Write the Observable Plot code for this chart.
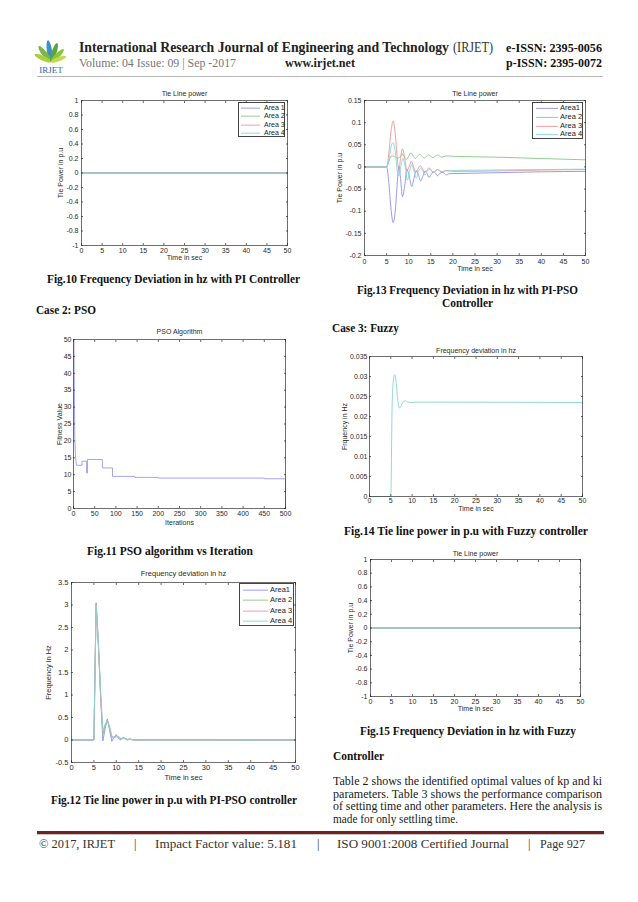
<!DOCTYPE html>
<html><head><meta charset="utf-8">
<script src="https://cdn.jsdelivr.net/npm/d3@7"></script>
<script src="https://cdn.jsdelivr.net/npm/@observablehq/plot@0.6"></script>
<style>
body{margin:0;background:#fff;}
#page{position:relative;width:638px;height:902px;overflow:hidden;background:#fff;color:#1a1a1a;}
.t{position:absolute;white-space:nowrap;line-height:1;}
.fit{display:inline-block;transform-origin:0 50%;}
.chart{position:absolute;}
.legend{position:absolute;border:0.7px solid #444;background:#fff;font-family:"Liberation Sans",Arial,sans-serif;color:#222;box-sizing:border-box;}
.legend .row{position:absolute;left:0;right:0;height:8px;}
.legend .lab{position:absolute;line-height:8px;white-space:nowrap;}
.legend svg{position:absolute;top:0;}
</style></head><body><div id="page"></div>
<script>
// ---------------- DATA ----------------
const areaNames = ["Area 1", "Area 2", "Area 3", "Area 4"];
const areaNamesB = ["Area1", "Area 2", "Area 3", "Area 4"];
const areaColors = ["#8f8ff2", "#86c886", "#f29494", "#84d6d6"];

const timeTicks = [0, 5, 10, 15, 20, 25, 30, 35, 40, 45, 50];
const unitTicks = [-1, -0.8, -0.6, -0.4, -0.2, 0, 0.2, 0.4, 0.6, 0.8, 1];

// Fig.10 - tie line power, PI (all areas flat at zero)
const piTieArea1 = [[0, 0], [50, 0]];
const piTieArea2 = [[0, 0], [50, 0]];
const piTieArea3 = [[0, 0], [50, 0]];
const piTieArea4 = [[0, 0], [50, 0]];

// Fig.13 - tie line power, PI-PSO
const psoTieTicks = [-0.2, -0.15, -0.1, -0.05, 0, 0.05, 0.1, 0.15];
const psoTieArea1 = [[0,0],[5,0],[5.5,-0.035],[6,-0.095],[6.5,-0.126],[7,-0.095],[7.5,-0.025],[7.8,0.002],[8.1,-0.02],[8.6,-0.067],[9.1,-0.042],[9.6,-0.006],[10.1,-0.02],[10.7,-0.044],[11.2,-0.026],[11.7,-0.008],[12.2,-0.018],[12.7,-0.032],[13.2,-0.021],[13.7,-0.009],[14.1,-0.014],[14.6,-0.024],[15.1,-0.017],[15.6,-0.011],[16.0,-0.013],[16.5,-0.02],[17.0,-0.015],[17.5,-0.012],[18.0,-0.014],[18.5,-0.018],[19.2,-0.015],[20,-0.015],[25,-0.014],[30,-0.013],[40,-0.011],[50,-0.01]];
const psoTieArea2 = [[0,0],[5,0],[5.5,0.012],[6,0.024],[6.5,0.025],[7,0.022],[7.5,0.02],[8,0.022],[8.5,0.03],[9,0.022],[9.5,0.017],[10,0.024],[10.5,0.032],[11,0.025],[11.5,0.019],[12,0.024],[12.5,0.029],[13,0.024],[13.5,0.02],[14,0.024],[14.5,0.027],[15,0.024],[15.5,0.021],[16,0.024],[16.5,0.027],[17.5,0.022],[18.5,0.025],[20,0.024],[30,0.022],[40,0.019],[50,0.016]];
const psoTieArea3 = [[0,0],[5,0],[5.5,0.03],[6,0.08],[6.5,0.104],[7,0.07],[7.5,0.01],[7.8,-0.005],[8.1,0.015],[8.6,0.041],[9.1,0.02],[9.6,-0.008],[10.1,0.0],[10.6,0.013],[11.1,0.0],[11.6,-0.012],[12.1,-0.005],[12.6,0.003],[13.1,-0.004],[13.6,-0.013],[14.1,-0.008],[14.6,-0.002],[15.1,-0.007],[15.6,-0.013],[16.5,-0.006],[17.5,-0.012],[18.5,-0.008],[20,-0.01],[30,-0.009],[40,-0.007],[50,-0.006]];
const psoTieArea4 = [[0,0],[5,0],[5.5,0.015],[6,0.045],[6.5,0.055],[7,0.03],[7.5,-0.015],[7.8,-0.02],[8.2,0.0],[8.7,0.02],[9.2,0.0],[9.7,-0.03],[10.2,-0.01],[10.7,0.005],[11.2,-0.01],[11.7,-0.025],[12.2,-0.01],[12.7,-0.003],[13.2,-0.01],[13.7,-0.018],[14.2,-0.01],[14.7,-0.005],[15.5,-0.012],[16.5,-0.006],[17.5,-0.01],[20,-0.008],[30,-0.007],[50,-0.005]];

// Fig.11 - PSO algorithm fitness vs iteration
const iterTicks = [0, 50, 100, 150, 200, 250, 300, 350, 400, 450, 500];
const fitnessTicks = [0, 5, 10, 15, 20, 25, 30, 35, 40, 45, 50];
const psoIteration = [1, 3, 5, 7, 20, 20, 31, 31, 33, 33, 68, 68, 92, 92, 145, 145, 200, 200, 450, 450, 500, 500];
const psoFitness   = [50, 21, 15, 12.8, 12.8, 14, 14, 10.5, 10.5, 14.5, 14.5, 12, 12, 9.5, 9.5, 9.2, 9.2, 9.0, 9.0, 8.8, 8.8, 0];

// Fig.14 - frequency deviation, fuzzy
const fuzzyFreqTicks = [0, 0.005, 0.01, 0.015, 0.02, 0.025, 0.03, 0.035];
const fuzzyFreq = [[0,0],[5,0],[5.3,0.022],[5.6,0.029],[5.9,0.0305],[6.2,0.0292],[6.6,0.0245],[7.0,0.0221],[7.4,0.0226],[7.9,0.0237],[8.4,0.0239],[9,0.0236],[10,0.0235],[11,0.0236],[50,0.0235]];

// Fig.12 - frequency deviation, PI-PSO
const psoFreqTicks = [-0.5, 0, 0.5, 1, 1.5, 2, 2.5, 3, 3.5];
const psoFreqArea1 = [[0,0],[5,0],[5.5,3.05],[6,2.1],[6.5,0.95],[7,-0.02],[7.5,0.25],[8,0.47],[8.5,0.22],[9,-0.03],[9.5,0.06],[10,0.12],[10.5,0.03],[11,0.0],[11.5,0.06],[12,0.03],[12.5,0.0],[13,0.02],[14,0.0],[15,0.005],[50,0]];
const psoFreqArea2 = [[0,0],[5,0],[5.5,3.0],[6,2.1],[6.5,1.0],[7,0.12],[7.5,0.3],[8,0.45],[8.5,0.25],[9,0.05],[9.5,0.04],[10,0.1],[10.5,0.06],[11,0.02],[11.5,0.04],[12,0.04],[12.5,0.01],[13,0.02],[14,0.0],[50,0]];
const psoFreqArea3 = [[0,0],[5,0],[5.5,3.02],[6,2.15],[6.5,1.0],[7,0.16],[7.5,0.32],[8,0.44],[8.5,0.28],[9,0.08],[9.5,0.06],[10,0.09],[10.5,0.07],[11,0.03],[11.5,0.04],[12,0.03],[12.5,0.01],[13,0.02],[14,0.0],[50,0]];
const psoFreqArea4 = [[0,0],[5,0],[5.5,3.0],[6,2.2],[6.5,1.1],[7,0.2],[7.5,0.35],[8,0.42],[8.5,0.3],[9,0.1],[9.5,0.05],[10,0.07],[10.5,0.08],[11,0.04],[11.5,0.03],[12,0.03],[12.5,0.02],[13,0.01],[14,0.0],[50,0]];

// Fig.15 - tie line power, fuzzy (flat at zero)
const fuzzyTieArea1 = [[0, 0], [50, 0]];
const fuzzyTieArea2 = [[0, 0], [50, 0]];
const fuzzyTieArea3 = [[0, 0], [50, 0]];
const fuzzyTieArea4 = [[0, 0], [50, 0]];

// ---------------- PAGE HELPERS ----------------
const page = document.getElementById("page");
const SERIF = '"Liberation Serif", "DejaVu Serif", serif';
function txt(s, o) {
  const d = document.createElement("div");
  d.className = "t";
  d.style.left = o.x + "px";
  d.style.top = (o.y - o.size / 2) + "px";
  d.style.fontSize = o.size + "px";
  d.style.fontWeight = o.bold ? "700" : "400";
  d.style.color = o.color || "#1a1a1a";
  d.style.fontFamily = o.font || SERIF;
  const sp = document.createElement("span");
  sp.className = "fit";
  sp.textContent = s;
  d.appendChild(sp);
  page.appendChild(d);
  if (o.w) {
    const w = sp.getBoundingClientRect().width;
    sp.style.transform = `scaleX(${o.w / w})`;
  }
  return d;
}
function rect(x, y, w, h, color) {
  const d = document.createElement("div");
  d.style.cssText = `position:absolute;left:${x}px;top:${y}px;width:${w}px;height:${h}px;background:${color};`;
  page.appendChild(d);
}

// ---------------- HEADER ----------------
const logo = document.createElementNS("http://www.w3.org/2000/svg", "svg");
logo.setAttribute("width", "34"); logo.setAttribute("height", "42");
logo.style.cssText = "position:absolute;left:34px;top:33px;";
logo.innerHTML = `
<g transform="translate(17,29)">
<ellipse cx="0" cy="-11" rx="2.6" ry="11" fill="#3d8fc4" transform="rotate(-8)"/>
<ellipse cx="0" cy="-10" rx="2.6" ry="10" fill="#7ab648" transform="rotate(-38)"/>
<ellipse cx="0" cy="-9" rx="2.4" ry="9" fill="#a9cf3a" transform="rotate(-65)"/>
<ellipse cx="0" cy="-10" rx="2.5" ry="10" fill="#5aa63c" transform="rotate(18)"/>
<ellipse cx="0" cy="-9" rx="2.4" ry="9" fill="#8cc43f" transform="rotate(45)"/>
<ellipse cx="0" cy="-8" rx="2.2" ry="8" fill="#c4d84a" transform="rotate(70)"/>
</g>
<text x="17" y="40" text-anchor="middle" font-family="Liberation Serif, serif" font-size="9" fill="#2f62ad">IRJET</text>`;
page.appendChild(logo);

txt("International Research Journal of Engineering and Technology", {x: 79, y: 48, size: 14, bold: true, w: 370, color: "#222"});
txt("(IRJET)", {x: 453, y: 48, size: 14, w: 40, color: "#333"});
txt("e-ISSN: 2395-0056", {x: 506, y: 48, size: 12, bold: true, w: 96, color: "#111"});
txt("Volume: 04 Issue: 09 | Sep -2017", {x: 79, y: 63, size: 12, w: 157, color: "#777"});
txt("www.irjet.net", {x: 285, y: 63, size: 12, bold: true, w: 70, color: "#222"});
txt("p-ISSN: 2395-0072", {x: 506, y: 63, size: 12, bold: true, w: 96, color: "#111"});
rect(37, 76, 566, 1.2, "#b8b8b8");

// ---------------- CHARTS ----------------
function makeChart(c) {
  const mL = 40, mR = 12, mT = 16, mB = 24;
  const W = c.fx1 - c.fx0, H = c.fy1 - c.fy0;
  const fmt = d => String(d);
  const sw = 0.7;
  const lines = c.series.map((s, i) => Plot.line(s, {
    x: d => d[0], y: d => d[1], stroke: c.colors[i], strokeWidth: 0.9,
    curve: c.curve || "linear"
  }));
  const svg = Plot.plot({
    width: W + mL + mR, height: H + mT + mB,
    marginLeft: mL, marginRight: mR, marginTop: mT, marginBottom: mB,
    x: {domain: c.xDomain}, y: {domain: c.yDomain},
    style: {fontSize: (c.fs || 7) + "px", fontFamily: '"Liberation Sans", Arial, sans-serif', color: "#2a2a2a", background: "transparent", overflow: "visible"},
    marks: [
      ...lines,
      Plot.frame({stroke: "#333", strokeWidth: sw}),
      Plot.axisX({anchor: "bottom", ticks: c.xTicks, tickSize: -2, tickPadding: c.xPad, tickFormat: fmt, label: null, strokeWidth: sw}),
      Plot.axisX({anchor: "top", ticks: c.xTicks, tickSize: -2, tickFormat: () => "", label: null, strokeWidth: sw}),
      Plot.axisY({anchor: "left", ticks: c.yTicks, tickSize: -2, tickPadding: c.yPad, tickFormat: fmt, label: null, strokeWidth: sw}),
      Plot.axisY({anchor: "right", ticks: c.yTicks, tickSize: -2, tickFormat: () => "", label: null, strokeWidth: sw}),
      Plot.text([c.title], {frameAnchor: "top", dy: -c.titleDy, lineAnchor: "middle"}),
      Plot.text([c.xLabel], {frameAnchor: "bottom", dy: c.xLabelDy, lineAnchor: "middle"}),
      Plot.text([c.yLabel], {frameAnchor: "left", dx: -c.yLabelDx, rotate: -90, lineAnchor: "middle", textAnchor: "middle"})
    ]
  });
  svg.classList.add("chart");
  svg.style.left = (c.fx0 - mL) + "px";
  svg.style.top = (c.fy0 - mT) + "px";
  page.appendChild(svg);
  if (c.legend) {
    const L = c.legend;
    const box = document.createElement("div");
    box.className = "legend";
    box.style.cssText += `left:${L.x0}px;top:${L.y0}px;width:${L.x1 - L.x0}px;height:${L.y1 - L.y0}px;font-size:${L.fs}px;`;
    const rowH = (L.y1 - L.y0 - 2) / L.names.length;
    L.names.forEach((n, i) => {
      const row = document.createElement("div");
      row.className = "row";
      row.style.top = (1 + i * rowH) + "px";
      row.style.height = rowH + "px";
      const s = document.createElementNS("http://www.w3.org/2000/svg", "svg");
      s.setAttribute("width", L.s1 - L.s0); s.setAttribute("height", rowH);
      s.style.left = (L.s0 - L.x0) + "px";
      s.innerHTML = `<line x1="0" x2="${L.s1 - L.s0}" y1="${rowH / 2}" y2="${rowH / 2}" stroke="${c.colors[i]}" stroke-width="0.9"/>`;
      row.appendChild(s);
      const lab = document.createElement("div");
      lab.className = "lab";
      lab.style.left = (L.tx - L.x0) + "px";
      lab.style.lineHeight = rowH + "px";
      lab.textContent = n;
      row.appendChild(lab);
      box.appendChild(row);
    });
    page.appendChild(box);
  }
}

// Fig.10
makeChart({fx0: 81, fx1: 287, fy0: 100, fy1: 245, xDomain: [0, 50], yDomain: [-1, 1],
  xTicks: timeTicks, yTicks: unitTicks, xPad: 4.5, yPad: 5,
  series: [piTieArea1, piTieArea2, piTieArea3, piTieArea4], colors: areaColors,
  title: "Tie Line power", titleDy: 7, xLabel: "Time in sec", xLabelDy: 12, yLabel: "Tie Power in p.u", yLabelDx: 21,
  legend: {x0: 238, x1: 285, y0: 102, y1: 137, s0: 240, s1: 259, tx: 263, fs: 7, names: areaNames}});

// Fig.13
makeChart({fx0: 364, fx1: 585, fy0: 100, fy1: 255, xDomain: [0, 50], yDomain: [-0.2, 0.15],
  xTicks: timeTicks, yTicks: psoTieTicks, xPad: 5.5, yPad: 5,
  series: [psoTieArea1, psoTieArea2, psoTieArea3, psoTieArea4], colors: areaColors, curve: "monotone-x",
  title: "Tie Line power", titleDy: 7, xLabel: "Time in sec", xLabelDy: 13, yLabel: "Tie Power in p.u", yLabelDx: 25,
  legend: {x0: 532, x1: 583, y0: 102, y1: 139, s0: 535, s1: 557, tx: 559, fs: 7.5, names: areaNamesB}});

// Fig.11
makeChart({fx0: 73, fx1: 285, fy0: 339, fy1: 508, xDomain: [0, 500], yDomain: [0, 50],
  xTicks: iterTicks, yTicks: fitnessTicks, xPad: 4.5, yPad: 4,
  series: [d3.zip(psoIteration, psoFitness)], colors: ["#979bf0"],
  title: "PSO Algorithm", titleDy: 8, xLabel: "Iterations", xLabelDy: 14, yLabel: "Fitness Value", yLabelDx: 14});

// Fig.14
makeChart({fx0: 369, fx1: 582, fy0: 356, fy1: 496, xDomain: [0, 50], yDomain: [0, 0.035],
  xTicks: timeTicks, yTicks: fuzzyFreqTicks, xPad: 3.5, yPad: 4,
  series: [fuzzyFreq], colors: ["#86d4d4"], curve: "monotone-x",
  title: "Frequency deviation in hz", titleDy: 6, xLabel: "Time in sec", xLabelDy: 12, yLabel: "Frquency in Hz", yLabelDx: 25});

// Fig.12
makeChart({fx0: 71, fx1: 295, fy0: 582, fy1: 762, xDomain: [0, 50], yDomain: [-0.5, 3.5],
  xTicks: timeTicks, yTicks: psoFreqTicks, xPad: 4.5, yPad: 5, fs: 7.5,
  series: [psoFreqArea1, psoFreqArea2, psoFreqArea3, psoFreqArea4], colors: areaColors,
  title: "Frequency deviation in hz", titleDy: 9, xLabel: "Time in sec", xLabelDy: 15, yLabel: "Frequency in Hz", yLabelDx: 23,
  legend: {x0: 239, x1: 294, y0: 583, y1: 626, s0: 242, s1: 267, tx: 269, fs: 7.5, names: areaNamesB}});

// Fig.15
makeChart({fx0: 370, fx1: 580, fy0: 559, fy1: 696, xDomain: [0, 50], yDomain: [-1, 1],
  xTicks: timeTicks, yTicks: unitTicks, xPad: 4.5, yPad: 5,
  series: [fuzzyTieArea1, fuzzyTieArea2, fuzzyTieArea3, fuzzyTieArea4], colors: areaColors,
  title: "Tie Line power", titleDy: 6, xLabel: "Time in sec", xLabelDy: 12, yLabel: "Tie Power in p.u", yLabelDx: 20});

// ---------------- CAPTIONS & BODY TEXT ----------------
const cap = {size: 12.5, bold: true, color: "#111"};
txt("Fig.10 Frequency Deviation in hz with PI Controller", {...cap, x: 47, y: 279, w: 253});
txt("Fig.13 Frequency Deviation in hz with PI-PSO", {...cap, x: 357, y: 290, w: 221});
txt("Controller", {...cap, x: 442, y: 303, w: 51});
txt("Case 2: PSO", {...cap, x: 36, y: 310, w: 60});
txt("Case 3: Fuzzy", {...cap, x: 332, y: 328, w: 67});
txt("Fig.11 PSO algorithm vs Iteration", {...cap, x: 87, y: 551, w: 166});
txt("Fig.14 Tie line power in p.u with Fuzzy controller", {...cap, x: 344, y: 531, w: 244});
txt("Fig.12 Tie line power in p.u with PI-PSO controller", {...cap, x: 51, y: 800, w: 246});
txt("Fig.15 Frequency Deviation in hz with Fuzzy", {...cap, x: 360, y: 731, w: 216});
txt("Controller", {...cap, x: 333, y: 756, w: 51});

const body = {size: 12, color: "#1a1a1a"};
txt("Table 2 shows the identified optimal values of kp and ki", {...body, x: 333, y: 781, w: 269});
txt("parameters. Table 3 shows the performance comparison", {...body, x: 333, y: 793.5, w: 269});
txt("of setting time and other parameters. Here the analysis is", {...body, x: 333, y: 806, w: 269});
txt("made for only settling time.", {...body, x: 333, y: 818.5, w: 125});

// ---------------- FOOTER ----------------
rect(37, 831, 567, 3, "#6e2222");
rect(37, 834, 567, 1.2, "#c9c3c3");
const ft = {size: 12.5, color: "#333"};
txt("© 2017, IRJET", {...ft, x: 39, y: 844, w: 76});
txt("|", {...ft, x: 134, y: 844});
txt("Impact Factor value: 5.181", {...ft, x: 155, y: 844, w: 142});
txt("|", {...ft, x: 317, y: 844});
txt("ISO 9001:2008 Certified Journal", {...ft, x: 337, y: 844, w: 172});
txt("|", {...ft, x: 528, y: 844});
txt("Page 927", {...ft, x: 540, y: 844, w: 45});
</script></body></html>
